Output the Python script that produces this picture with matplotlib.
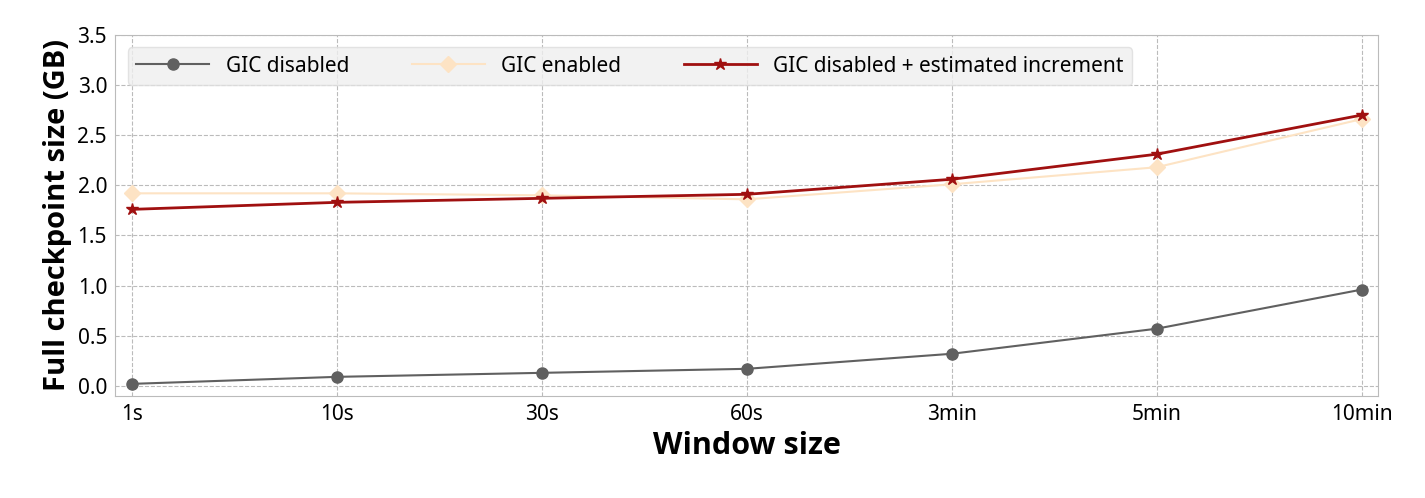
import matplotlib.pyplot as plt

plt.rcParams['font.family'] = ['Noto Sans', 'DejaVu Sans']

windows = ['1s', '10s', '30s', '60s', '3min', '5min', '10min']
gic_disabled = [0.02, 0.09, 0.13, 0.17, 0.32, 0.57, 0.96]
gic_enabled = [1.92, 1.92, 1.90, 1.86, 2.01, 2.18, 2.66]
gic_estimated = [1.76, 1.83, 1.87, 1.91, 2.06, 2.31, 2.70]

fig, ax = plt.subplots(figsize=(14.25, 4.98), dpi=100)
fig.subplots_adjust(left=0.081, right=0.967, top=0.93, bottom=0.205)

x = range(len(windows))
ax.plot(x, gic_disabled, '-o', color='#606060', lw=1.5, ms=8, label='GIC disabled')
ax.plot(x, gic_enabled, '-D', color='#fde3c4', lw=1.5, ms=8, label='GIC enabled')
ax.plot(x, gic_estimated, '-*', color='#a01010', lw=2, ms=9, label='GIC disabled + estimated increment')

ax.set_xlim(-0.08, 6.08)
ax.set_ylim(-0.1, 3.5)
ax.set_yticks([0, 0.5, 1, 1.5, 2, 2.5, 3, 3.5])
ax.set_xticks(list(x))
ax.set_xticklabels(windows)
ax.tick_params(labelsize=15, length=0, pad=6)
ax.grid(True, ls='--', color='#bbbbbb', lw=0.8)
for s in ax.spines.values():
    s.set_color('#bbbbbb')

ax.set_xlabel('Window size', fontsize=22, fontweight='bold', family='Open Sans')
ax.set_ylabel('Full checkpoint size (GB)', fontsize=21, fontweight='bold', family='Open Sans')

ax.legend(loc='upper left', ncol=3, fontsize=15, frameon=True, facecolor='#efefef',
          edgecolor='#dddddd', columnspacing=3.0, handlelength=3.5, borderaxespad=0.6)

fig.savefig('out.png')
